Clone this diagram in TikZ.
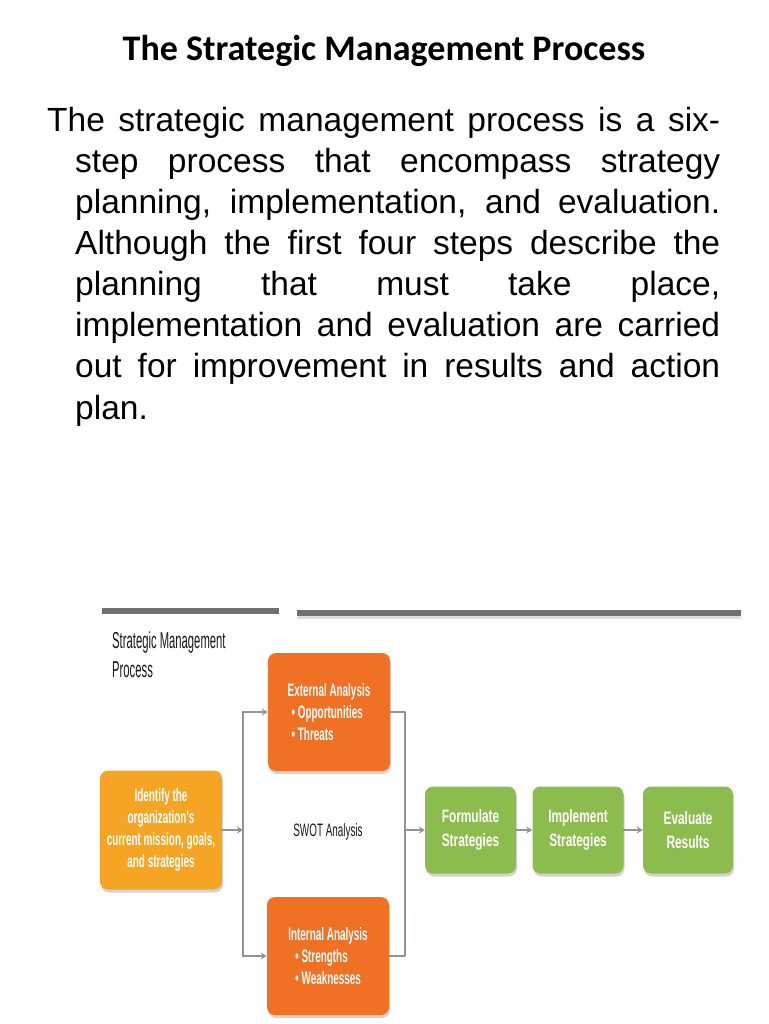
\documentclass[tikz,border=0pt]{standalone}
\usepackage{fontspec}
\setmainfont{Liberation Sans}
\newfontfamily\titlefont{Carlito}
\newfontfamily\boxfont[FakeStretch=0.55]{Liberation Sans}
\newfontfamily\stepfont[FakeStretch=0.66]{Liberation Sans}
\newfontfamily\headfont[FakeStretch=0.49]{Liberation Sans}
\usetikzlibrary{arrows.meta,shadows}

\definecolor{missionyellow}{HTML}{F5A523}
\definecolor{analysisorange}{HTML}{F07024}
\definecolor{stepgreen}{HTML}{8CBB4E}
\definecolor{linkgray}{HTML}{939393}
\definecolor{bargray}{HTML}{707070}

\begin{document}
\begin{tikzpicture}[x=1pt, y=-1pt, line cap=round, line join=round,
  box/.style={rectangle, rounded corners=8pt, inner sep=0pt, text=white,
    font=\boxfont\bfseries\fontsize{18}{22}\selectfont,
    drop shadow={shadow xshift=1pt, shadow yshift=-3pt, opacity=0.35}},
  stepbox/.style={box, fill=stepgreen, minimum height=87pt, align=center,
    font=\stepfont\bfseries\fontsize{18}{24}\selectfont},
  link/.style={draw=linkgray, line width=2.8pt, -{Stealth[length=6pt,width=7pt]}},
  wire/.style={draw=linkgray, line width=2.8pt}]

\useasboundingbox (0,0) rectangle (768,1024);

% ---------------------------
% Title and text
% ---------------------------
\node[anchor=base, inner sep=0pt, font=\titlefont\bfseries\fontsize{36}{40}\selectfont]
  (title) at (384,61) {The Strategic Management Process};

\node[anchor=base west, inner sep=0pt, text width=673pt, align=justify,
  font=\fontsize{33.5}{41}\selectfont] (body) at (47,132)
  {\tolerance=10000 \hyphenpenalty=10000 \hangindent=28pt \hangafter=1
   The strategic management process is a six-\linebreak
   step process that encompass strategy\linebreak
   planning, implementation, and evaluation.\linebreak
   Although the first four steps describe the\linebreak
   planning that must take place,\linebreak
   implementation and evaluation are carried\linebreak
   out for improvement in results and action\linebreak
   plan.\par};

% ---------------------------
% Header bars of the chart
% ---------------------------
\fill[bargray] (102,608) rectangle (279,614);
\fill[bargray, drop shadow={shadow xshift=0pt, shadow yshift=-3pt, opacity=0.25}]
  (297,610) rectangle (741,616);

\node[anchor=base west, inner sep=0pt, align=left, text=black!90,
  font=\headfont\fontsize{23}{29}\selectfont] (head) at (112,677)
  {Strategic Management\\Process};

% ---------------------------
% Boxes
% ---------------------------
\node[box, fill=missionyellow, minimum width=122pt, minimum height=119pt,
  align=center] (mission) at (161,830)
  {Identify the\\organization's\\current mission, goals,\\and strategies};

\node[box, fill=analysisorange, minimum width=122pt, minimum height=118pt,
  align=left] (ext) at (329,712)
  {External Analysis\\\hspace{4pt}• Opportunities\\\hspace{4pt}• Threats};

\node[box, fill=analysisorange, minimum width=122pt, minimum height=118pt,
  align=left] (int) at (328,956)
  {Internal Analysis\\\hspace{7pt}• Strengths\\\hspace{7pt}• Weaknesses};

\node[inner sep=0pt, text=black!90, font=\boxfont\fontsize{18}{22}\selectfont]
  (swot) at (328,832) {SWOT Analysis};

\node[stepbox, minimum width=91pt] (form) at (470.5,830) {Formulate\\Strategies};
\node[stepbox, minimum width=91pt] (impl) at (578,830) {Implement\\Strategies};
\node[stepbox, minimum width=90pt] (eval) at (688,830) {Evaluate\\Results};

% ---------------------------
% Connectors
% ---------------------------
\coordinate (jL) at (243,830);
\coordinate (jR) at (405,830);

\draw[link] (mission) -- (jL);
\draw[wire] (ext.west -| jL) -- (int.west -| jL);
\draw[link] (ext.west -| jL) -- (ext);
\draw[link] (int.west -| jL) -- (int);

\draw[wire] (ext) -- (ext.east -| jR) -- (int.east -| jR) -- (int);
\draw[link] (jR) -- (form);
\draw[link] (form) -- (impl);
\draw[link] (impl) -- (eval);

\end{tikzpicture}
\end{document}
